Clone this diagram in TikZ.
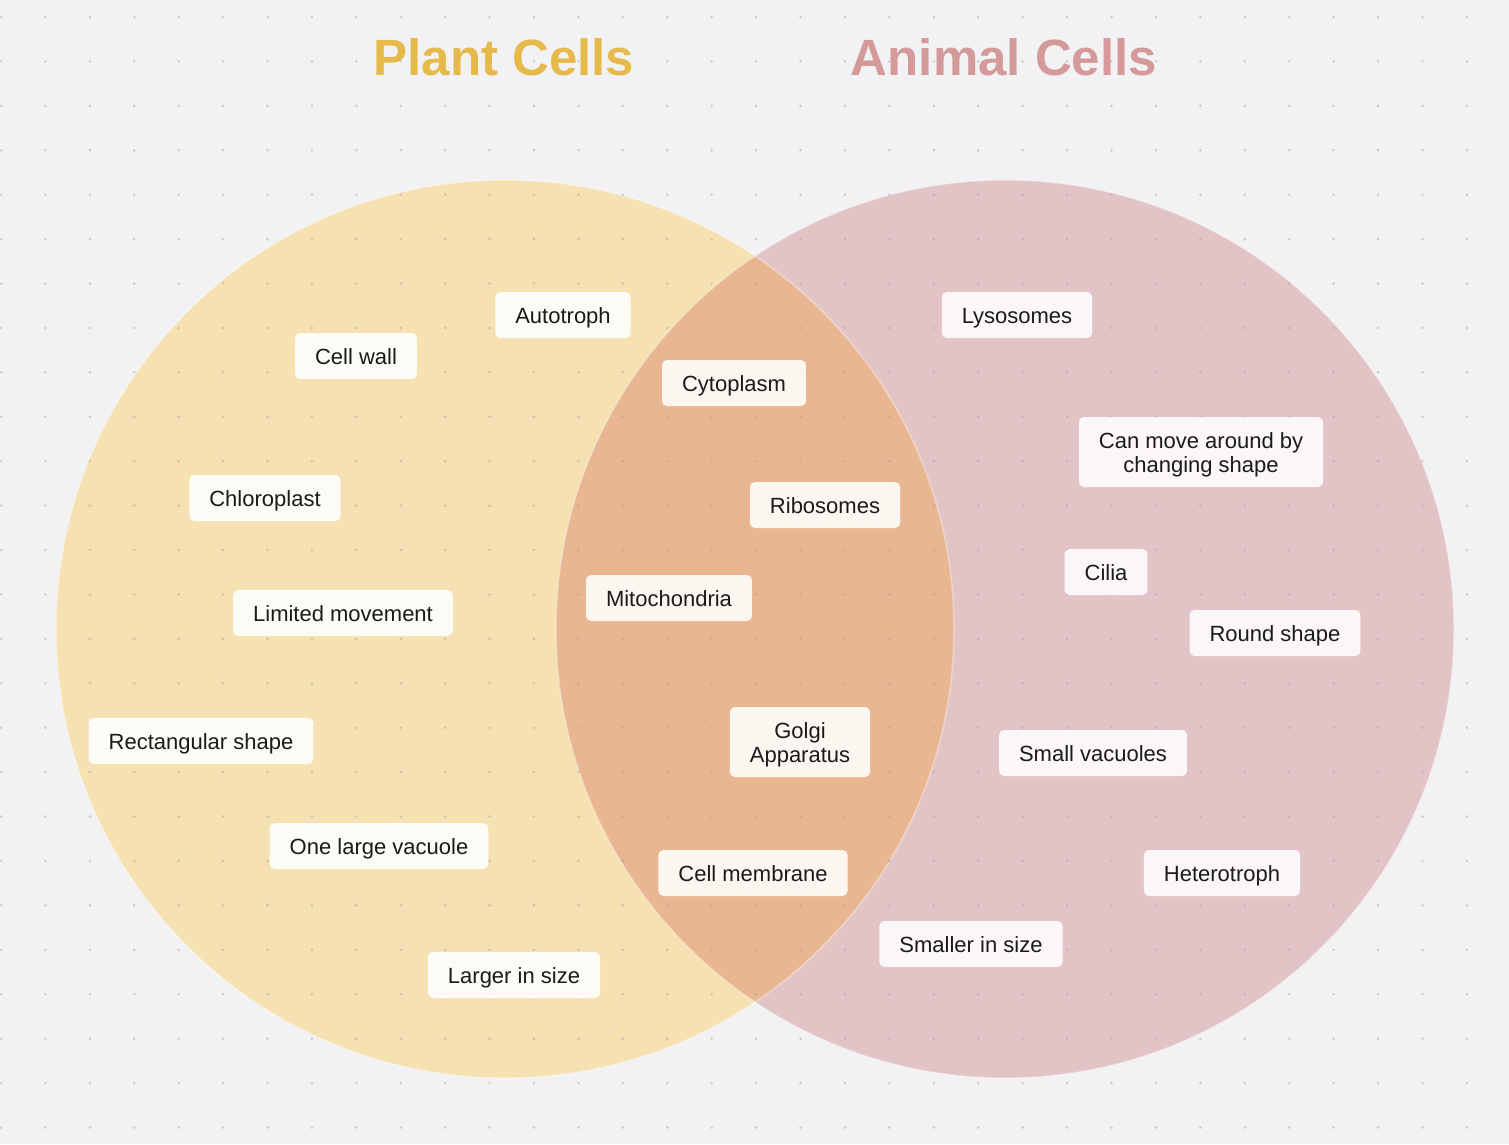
\documentclass[tikz,border=0pt]{standalone}
\usepackage{fontspec}
\setmainfont{Liberation Sans}
\definecolor{bgc}{HTML}{F2F2F5}
\definecolor{plantc}{HTML}{F5E1B2}
\definecolor{animalc}{HTML}{E3C4C6}
\definecolor{bothc}{HTML}{E8B791}
\definecolor{planttitle}{HTML}{E6B94B}
\definecolor{animaltitle}{HTML}{D49A9A}
\definecolor{dotc}{HTML}{A0A0AA}
\definecolor{txt}{HTML}{1A1A1A}
\begin{document}
\begin{tikzpicture}[x=1pt,y=-1pt,
  box/.style={fill=white, fill opacity=0.88, text opacity=1, text=txt,
    rounded corners=5pt, inner xsep=20pt, inner ysep=15pt, minimum height=46pt,
    text height=16pt, text depth=0pt,
    align=center, font=\fontsize{22}{24}\selectfont},
  boxtwo/.style={box, text height=40pt, text depth=0pt, minimum height=70pt},
  titlef/.style={font=\fontsize{51}{56}\selectfont\bfseries, anchor=base}]
\fill[bgc] (0,0) rectangle (1509,1144);
\useasboundingbox (0,0) rectangle (1509,1144);
% circles
\fill[plantc] (505,629) circle (449);
\fill[animalc] (1005,629) circle (449);
\begin{scope}
  \clip (505,629) circle (449);
  \fill[bothc] (1005,629) circle (449);
\end{scope}
\draw[white, draw opacity=0.35, line width=1.5pt] (505,629) circle (449);
\draw[white, draw opacity=0.35, line width=1.5pt] (1005,629) circle (449);
% dots
\foreach \i in {0,...,33} {
  \foreach \j in {0,...,25} {
    \fill[dotc, fill opacity=0.45] ({1+\i*44.42},{17+\j*44.42}) circle (1.5);
  }
}
% titles
\node[titlef, text=planttitle] (tplant) at (504,75) {Plant Cells};
\node[titlef, text=animaltitle] (tanimal) at (1004,75) {Animal Cells};
% plant only
\node[box] (autotroph) at (563,315) {Autotroph};
\node[box] (cellwall) at (356,356) {Cell wall};
\node[box] (chloro) at (265,498) {Chloroplast};
\node[box] (limited) at (343,613) {Limited movement};
\node[box] (rect) at (201,741) {Rectangular shape};
\node[box] (vacuole) at (379,846) {One large vacuole};
\node[box] (larger) at (514,975) {Larger in size};
% both
\node[box] (cyto) at (734,383) {Cytoplasm};
\node[box] (ribo) at (825,505) {Ribosomes};
\node[box] (mito) at (669,598) {Mitochondria};
\node[boxtwo] (golgi) at (800,742) {Golgi\\Apparatus};
\node[box] (membrane) at (753,873) {Cell membrane};
% animal only
\node[box] (lyso) at (1017,315) {Lysosomes};
\node[boxtwo] (move) at (1201,452) {Can move around by\\changing shape};
\node[box] (cilia) at (1106,572) {Cilia};
\node[box] (round) at (1275,633) {Round shape};
\node[box] (smallvac) at (1093,753) {Small vacuoles};
\node[box] (hetero) at (1222,873) {Heterotroph};
\node[box] (smaller) at (971,944) {Smaller in size};
\end{tikzpicture}
\end{document}
